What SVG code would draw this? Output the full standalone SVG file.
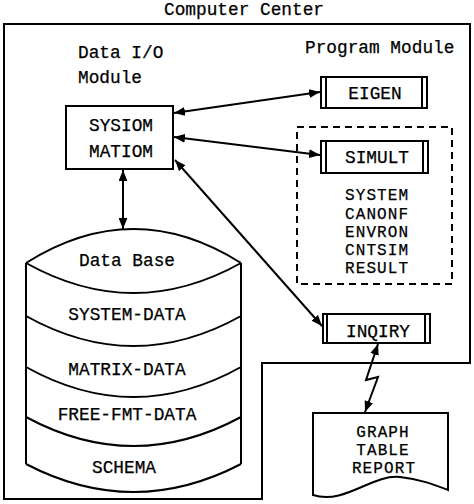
<svg xmlns="http://www.w3.org/2000/svg" width="474" height="504" viewBox="0 0 474 504">
<defs>
<marker id="ah" viewBox="0 0 10 8" refX="10" refY="4" markerWidth="11" markerHeight="9" markerUnits="userSpaceOnUse" orient="auto-start-reverse">
<path d="M0,0 L10,4 L0,8 Z" fill="#000"/>
</marker>
<style>
text{font-family:"Liberation Mono","Courier New",monospace;font-size:17.8px;fill:#000;stroke:#000;stroke-width:0.25}
.c{text-anchor:middle}
.s{font-size:16px;letter-spacing:1.1px}
.ln{fill:none;stroke:#000;stroke-width:2}
.ar{fill:none;stroke:#000;stroke-width:2;marker-start:url(#ah);marker-end:url(#ah)}
.bx{fill:#fff;stroke:#000;stroke-width:2}
</style>
</defs>
<rect width="474" height="504" fill="#fff"/>
<g id="frame">
<text class="c" x="244" y="15">Computer Center</text>
<path class="ln" d="M4,24 H470 V363 H262 V499 H4 Z"/>
<text x="78" y="58">Data I/O</text>
<text x="78" y="83">Module</text>
<text x="305" y="53">Program Module</text>
</g>
<g id="sysiom">
<rect class="bx" x="66" y="106" width="107" height="63"/>
<text class="c" x="121" y="131">SYSIOM</text>
<text class="c" x="121" y="157">MATIOM</text>
</g>
<g id="database">
<path class="ln" d="M26,263 Q133.5,195 241,263 M26,263 Q133.5,323 241,263 M26,316 Q133.5,376 241,316 M26,367 Q133.5,427 241,367 M26,417 Q133.5,475 241,417 M26,464 Q133.5,520 241,464 M26,263 V464 M241,263 V464"/>
<text class="c" x="127" y="266">Data Base</text>
<text class="c" x="127" y="320">SYSTEM-DATA</text>
<text class="c" x="127" y="375">MATRIX-DATA</text>
<text class="c" x="127" y="420">FREE-FMT-DATA</text>
<text class="c" x="124" y="473">SCHEMA</text>
</g>
<g id="eigen">
<rect class="bx" x="321" y="77" width="106" height="31"/>
<path class="ln" d="M326,77 V108 M422,77 V108"/>
<text class="c" x="375" y="99">EIGEN</text>
</g>
<g id="simult-group">
<rect x="297" y="127" width="155" height="157" fill="none" stroke="#000" stroke-width="2" stroke-dasharray="7,5"/>
<rect class="bx" x="321" y="141" width="107" height="32"/>
<path class="ln" d="M326,141 V173 M423,141 V173"/>
<text class="c" x="377" y="163">SIMULT</text>
<text class="s" x="345" y="200">SYSTEM</text>
<text class="s" x="345" y="219">CANONF</text>
<text class="s" x="345" y="237">ENVRON</text>
<text class="s" x="345" y="255">CNTSIM</text>
<text class="s" x="345" y="273">RESULT</text>
</g>
<g id="inqiry">
<rect class="bx" x="323" y="314" width="107" height="29"/>
<path class="ln" d="M327,314 V343 M425,314 V343"/>
<text class="c" x="378" y="337">INQIRY</text>
</g>
<g id="report">
<path class="ln" d="M313,413 H448 V490 C435,485 420,479 400,477 C372,474 345,505 313,495 Z" fill="#fff"/>
<text class="c s" x="383" y="437">GRAPH</text>
<text class="c s" x="383" y="455">TABLE</text>
<text class="c s" x="384" y="473">REPORT</text>
</g>
<g id="connectors">
<line class="ar" x1="123" y1="170" x2="123" y2="229"/>
<line class="ar" x1="174" y1="113" x2="320" y2="92"/>
<line class="ar" x1="174" y1="137" x2="320" y2="155"/>
<line class="ar" x1="175" y1="160" x2="322" y2="326"/>
<polyline class="ar" points="378,344 366,380 378,377 365,412"/>
</g>
</svg>
